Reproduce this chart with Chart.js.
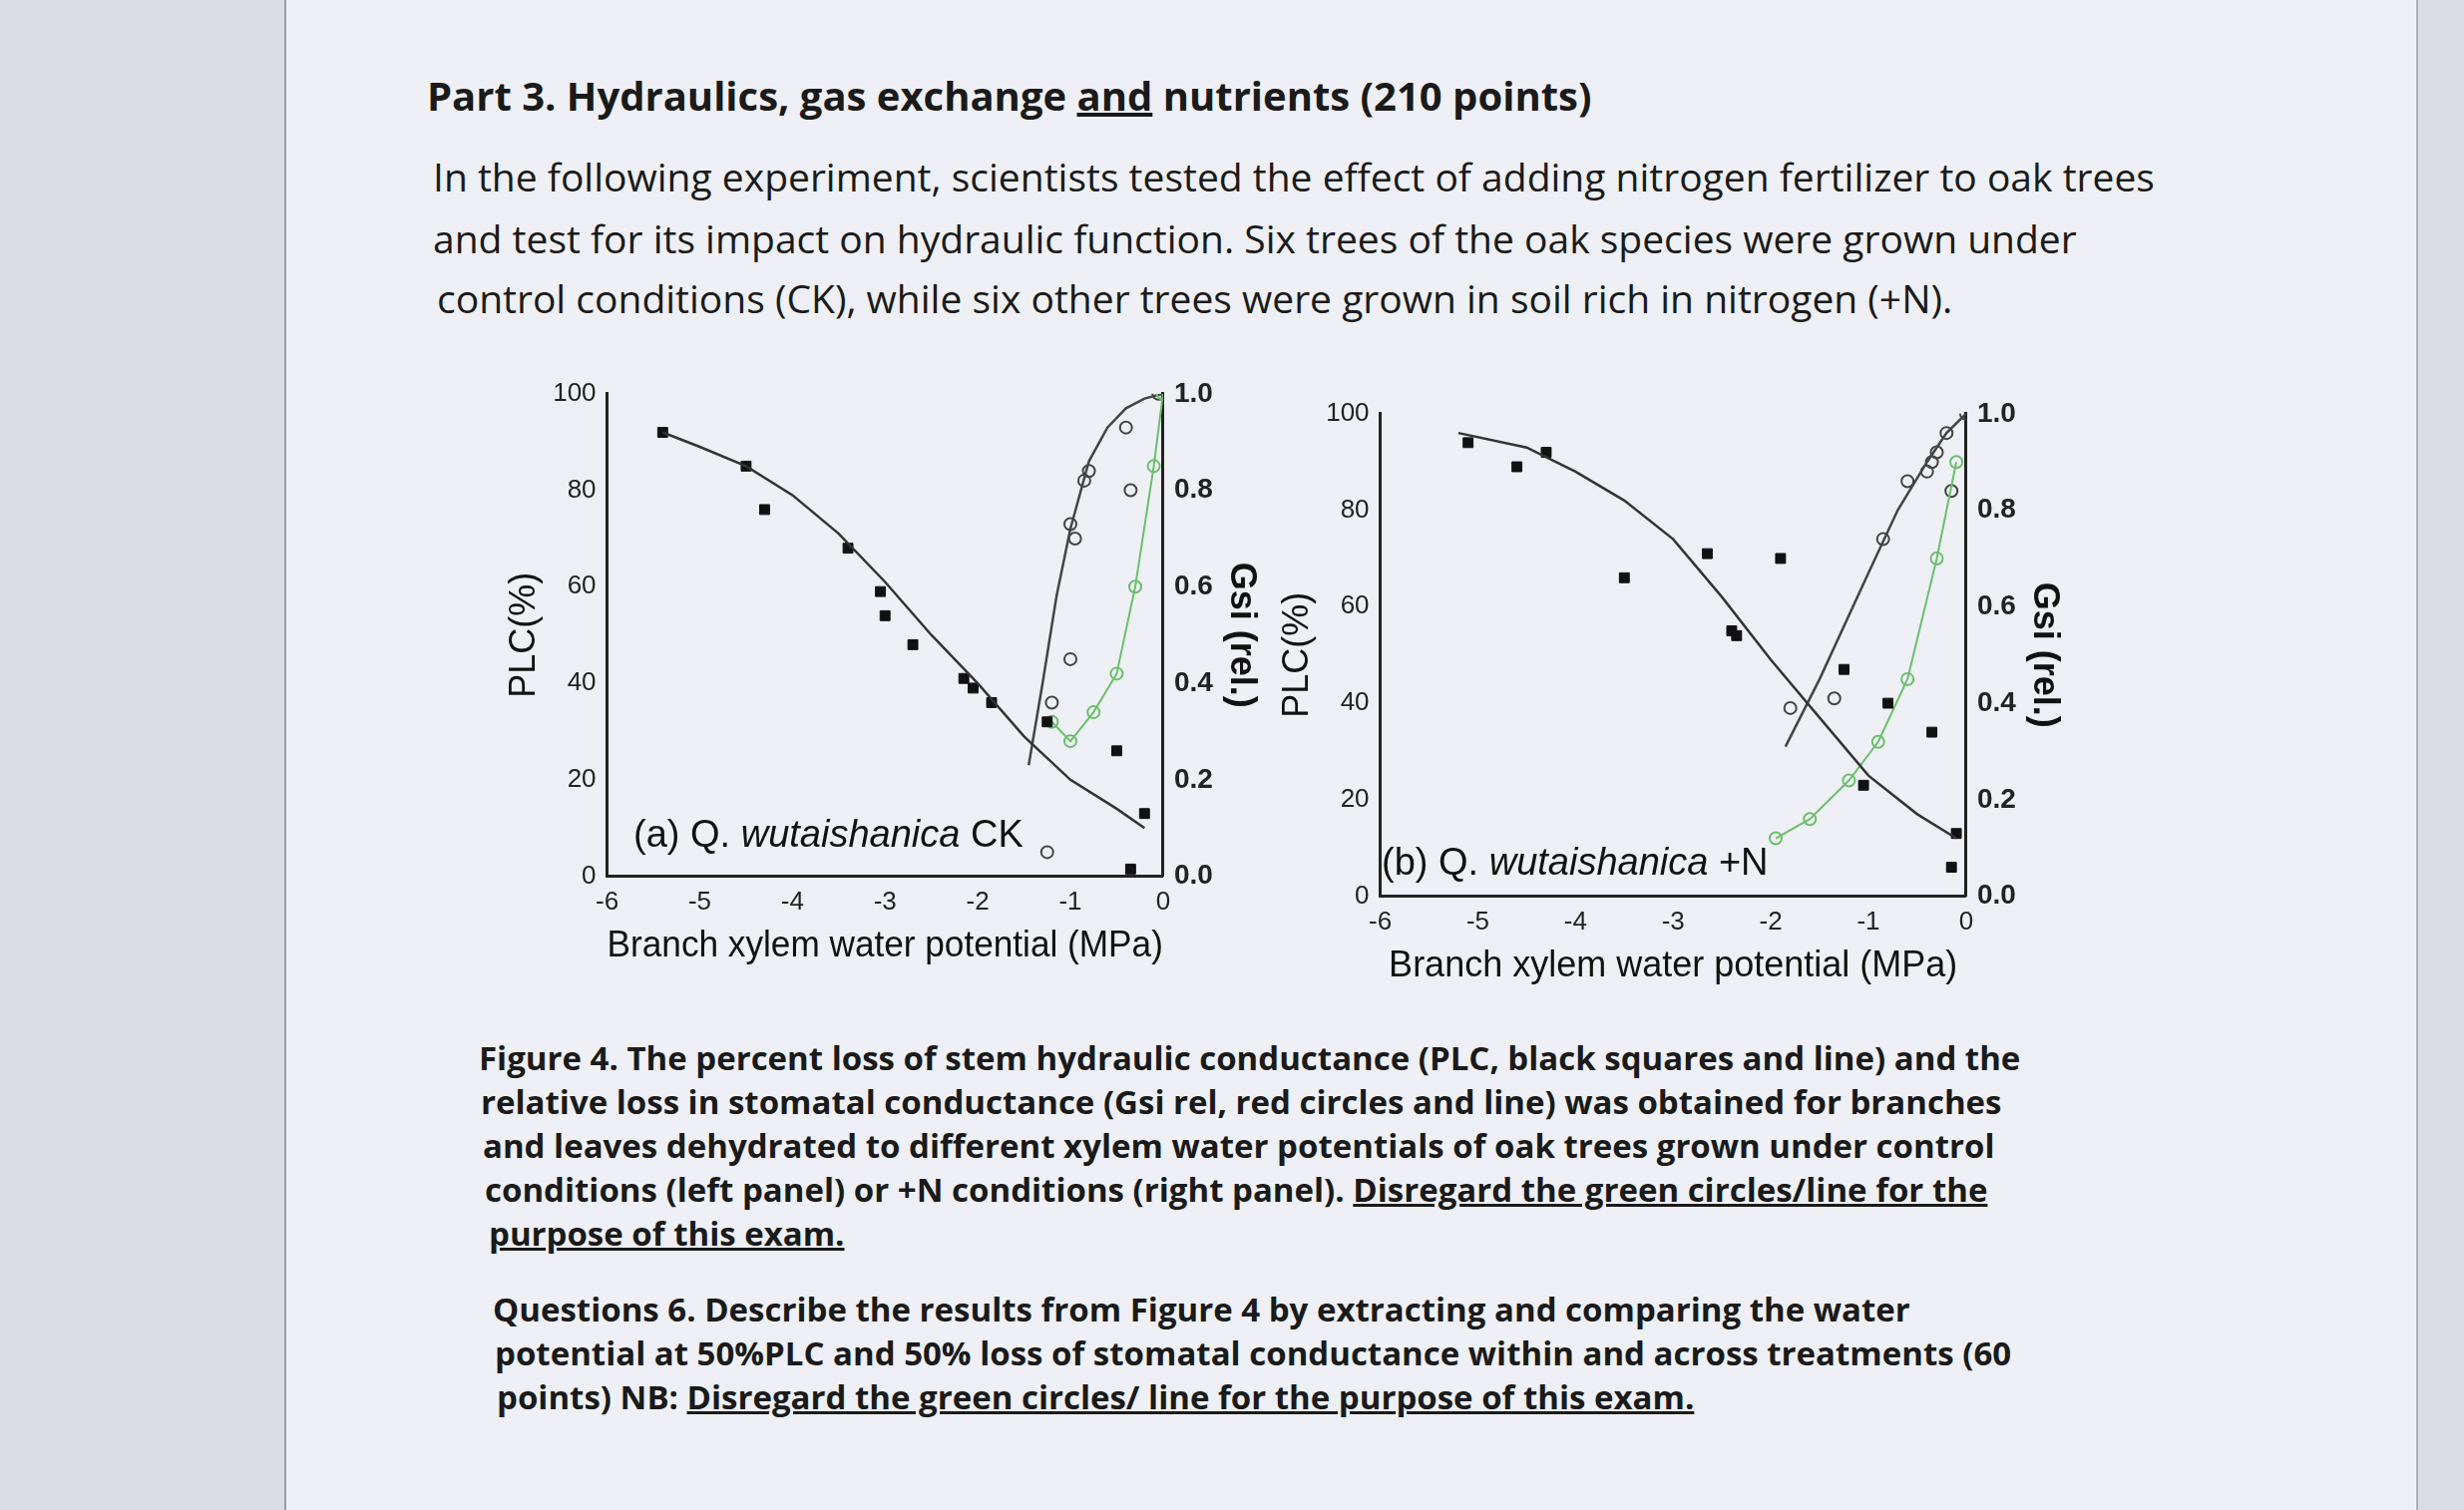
<!DOCTYPE html>
<html><head><meta charset="utf-8">
<script src="https://cdn.jsdelivr.net/npm/chart.js@4.4.0/dist/chart.umd.min.js"></script>
<style>
body{margin:0;width:2470px;height:1514px;background:#d9dce3;font-family:"Open Sans",sans-serif;position:relative;overflow:hidden}
.page{position:absolute;left:285px;top:-10px;width:2135px;height:1540px;background:#eef0f5;border-left:2px solid #9a9ca3;border-right:2px solid #b0b2b8}
.t{position:absolute;color:#1a1a1a;white-space:nowrap}
.h{font-weight:700;font-size:40px}
.p{font-size:39px}
.c{font-weight:700;font-size:33px}
.box{position:absolute}
.lab{position:absolute;font-family:"Liberation Sans",Arial,sans-serif;font-size:38px;color:#111}
</style></head><body>
<div class="page"></div>
<div class="t h" style="left:428px;top:68px">Part 3. Hydraulics, gas exchange <u>and</u> nutrients (210 points)</div>
<div class="t p" style="left:434px;top:150px">In the following experiment, scientists tested the effect of adding nitrogen fertilizer to oak trees</div>
<div class="t p" style="left:434px;top:212px">and test for its impact on hydraulic function. Six trees of the oak species were grown under</div>
<div class="t p" style="left:438px;top:272px">control conditions (CK), while six other trees were grown in soil rich in nitrogen (+N).</div>

<div class="box" style="left:500px;top:375px;width:770px;height:600px"><canvas id="ca"></canvas>
<div class="lab" style="left:135px;top:440px">(a) Q. <i>wutaishanica</i> CK</div></div>
<div class="box" style="left:1275px;top:395px;width:800px;height:600px"><canvas id="cb"></canvas>
<div class="lab" style="left:110px;top:448px">(b) Q. <i>wutaishanica</i> +N</div></div>

<div class="t c" style="left:480px;top:1038px">Figure 4. The percent loss of stem hydraulic conductance (PLC, black squares and line) and the</div>
<div class="t c" style="left:482px;top:1082px">relative loss in stomatal conductance (Gsi rel, red circles and line) was obtained for branches</div>
<div class="t c" style="left:484px;top:1126px">and leaves dehydrated to different xylem water potentials of oak trees grown under control</div>
<div class="t c" style="left:486px;top:1170px">conditions (left panel) or +N conditions (right panel). <u>Disregard the green circles/line for the</u></div>
<div class="t c" style="left:490px;top:1214px"><u>purpose of this exam.</u></div>
<div class="t c" style="left:494px;top:1290px">Questions 6. Describe the results from Figure 4 by extracting and comparing the water</div>
<div class="t c" style="left:496px;top:1334px">potential at 50%PLC and 50% loss of stomatal conductance within and across treatments (60</div>
<div class="t c" style="left:498px;top:1378px">points) NB: <u>Disregard the green circles/ line for the purpose of this exam.</u></div>

<script>
// panel (a) CK
const plcPtsA = [[-5.4,92],[-4.5,85],[-4.3,76],[-3.4,68],[-3.05,59],[-3.0,54],[-2.7,48],[-2.15,41],[-2.05,39],[-1.85,36],[-1.25,32],[-0.5,26],[-0.2,13],[-0.35,1.5]];
const plcFitA = [[-5.4,92],[-5,89],[-4.5,85],[-4,79],[-3.5,71],[-3,61],[-2.5,50],[-2,40],[-1.5,29],[-1,20],[-0.5,14],[-0.2,10]];
const gsPtsA = [[-1.25,0.05],[-1.2,0.36],[-1.0,0.45],[-0.95,0.70],[-1.0,0.73],[-0.85,0.82],[-0.8,0.84],[-0.35,0.80],[-0.4,0.93],[-0.05,1.0]];
const gsFitA = [[-1.45,0.23],[-1.3,0.4],[-1.15,0.58],[-1.0,0.72],[-0.8,0.86],[-0.6,0.93],[-0.4,0.97],[-0.2,0.99],[0,1.0]];
const greenA = [[-1.2,0.32],[-1.0,0.28],[-0.75,0.34],[-0.5,0.42],[-0.3,0.6],[-0.1,0.85],[0,1.0]];
// panel (b) +N
const plcPtsB = [[-5.1,94],[-4.6,89],[-4.3,92],[-3.5,66],[-2.65,71],[-2.4,55],[-2.35,54],[-1.9,70],[-1.25,47],[-1.05,23],[-0.8,40],[-0.35,34],[-0.1,13],[-0.15,6]];
const plcFitB = [[-5.2,96],[-4.5,93],[-4,88],[-3.5,82],[-3,74],[-2.5,62],[-2,49],[-1.5,37],[-1,25],[-0.5,17],[-0.1,12]];
const gsPtsB = [[-1.8,0.39],[-1.35,0.41],[-0.85,0.74],[-0.6,0.86],[-0.4,0.88],[-0.35,0.9],[-0.3,0.92],[-0.2,0.96],[-0.15,0.84],[0,1.0]];
const gsFitB = [[-1.85,0.31],[-1.5,0.45],[-1.0,0.67],[-0.7,0.80],[-0.4,0.90],[-0.2,0.96],[0,1.0]];
const greenB = [[-1.95,0.12],[-1.6,0.16],[-1.2,0.24],[-0.9,0.32],[-0.6,0.45],[-0.3,0.7],[-0.1,0.9]];
const xTicks = [-6,-5,-4,-3,-2,-1,0];

function xy(a){return a.map(p=>({x:p[0],y:p[1]}));}
const font = {family:'"Liberation Sans", Arial, sans-serif', size:26};

function makeChart(id, plcPts, plcFit, gsPts, gsFit, green){
  new Chart(document.getElementById(id), {
    type:'scatter',
    data:{datasets:[
      {data:xy(plcFit),showLine:true,pointRadius:0,borderColor:'#333',borderWidth:2.5,yAxisID:'y'},
      {data:xy(plcPts),pointStyle:'rect',pointRadius:7,backgroundColor:'#111',borderColor:'#111',yAxisID:'y'},
      {data:xy(green),showLine:true,pointRadius:6,pointStyle:'circle',backgroundColor:'rgba(0,0,0,0)',borderColor:'#6cbf6c',borderWidth:2,yAxisID:'y2'},
      {data:xy(gsFit),showLine:true,pointRadius:0,borderColor:'#444',borderWidth:2.5,yAxisID:'y2'},
      {data:xy(gsPts),pointRadius:6,backgroundColor:'rgba(0,0,0,0)',borderColor:'#444',borderWidth:2,yAxisID:'y2'}
    ]},
    options:{responsive:true,maintainAspectRatio:false,animation:false,
      layout:{padding:{top:10}},
      plugins:{legend:{display:false},tooltip:{enabled:false}},
      scales:{
        x:{type:'linear',min:-6,max:0,afterBuildTicks:s=>{s.ticks=xTicks.map(v=>({value:v}));},
          grid:{display:false,drawTicks:true},border:{color:'#222',width:3},
          ticks:{color:'#222',font:font},
          title:{display:true,text:'Branch xylem water potential (MPa)',color:'#111',font:{family:font.family,size:36}}},
        y:{min:0,max:100,ticks:{stepSize:20,color:'#222',font:font},grid:{display:false},border:{color:'#222',width:3},
          title:{display:true,text:'PLC(%)',color:'#111',font:{family:font.family,size:36}}},
        y2:{position:'right',min:0,max:1,ticks:{stepSize:0.2,color:'#222',font:{family:font.family,size:28,weight:'bold'},callback:v=>v.toFixed(1)},
          grid:{display:false},border:{color:'#222',width:3},
          title:{display:true,text:'Gsi (rel.)',color:'#111',font:{family:font.family,size:36,weight:'bold'}}}
      }}
  });
}
makeChart('ca', plcPtsA, plcFitA, gsPtsA, gsFitA, greenA);
makeChart('cb', plcPtsB, plcFitB, gsPtsB, gsFitB, greenB);
</script>
</body></html>
